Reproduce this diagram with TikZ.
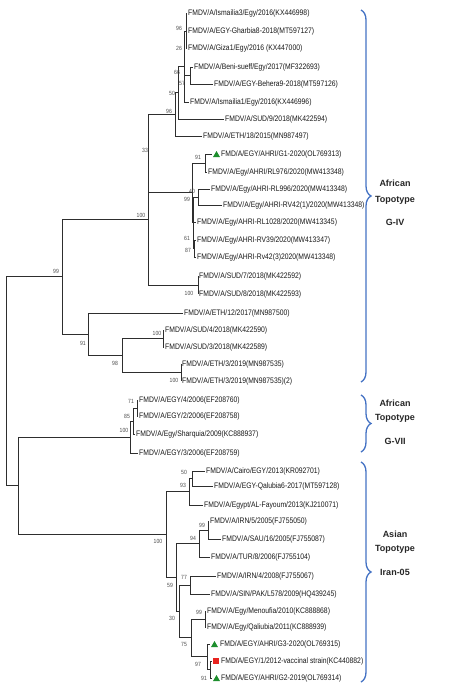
\documentclass[tikz,border=0pt]{standalone}
\usepackage{fontspec}
\setmainfont{Liberation Sans}
\newfontfamily\leaffont[FakeStretch=0.85]{Liberation Sans}
\usetikzlibrary{shapes.geometric,decorations.pathreplacing}
\definecolor{brblue}{HTML}{4472C4}
\definecolor{mkgreen}{HTML}{1E8F2E}
\definecolor{mkred}{HTML}{E8231F}
\begin{document}
\begin{tikzpicture}[x=1pt,y=-1pt,
 br/.style={draw=black!82, line width=1pt},
 leaf/.style={anchor=west, inner sep=1pt, font=\leaffont\fontsize{8}{9}\selectfont, text=black!90},
 bs/.style={inner sep=0, font=\leaffont\fontsize{6}{6.5}\selectfont, text=black!70},
 tri/.style={regular polygon, regular polygon sides=3, fill=mkgreen, inner sep=0, minimum size=8pt},
 sq/.style={rectangle, fill=mkred, inner sep=0, minimum size=6.5pt},
 clade/.style={draw=brblue, line width=1.3pt, decorate, decoration={brace, amplitude=10pt}},
 cladetxt/.style={font=\bfseries\fontsize{9}{10}\selectfont, text=black!85, inner sep=0}
]
\fill[white] (0,0) rectangle (474,699);
\useasboundingbox (0,0) rectangle (474,699);

% ---------- leaves ----------
\node[leaf] (l1) at (187,13) {FMDV/A/Ismailia3/Egy/2016(KX446998)};
\node[leaf] (l2) at (187,31) {FMDV/A/EGY-Gharbia8-2018(MT597127)};
\node[leaf] (l3) at (187,48) {FMDV/A/Giza1/Egy/2016 (KX447000)};
\node[leaf] (l4) at (193,67) {FMDV/A/Beni-sueff/Egy/2017(MF322693)};
\node[leaf] (l5) at (213,84) {FMDV/A/EGY-Behera9-2018(MT597126)};
\node[leaf] (l6) at (189,102) {FMDV/A/Ismailia1/Egy/2016(KX446996)};
\node[leaf] (l7) at (224,119) {FMDV/A/SUD/9/2018(MK422594)};
\node[leaf] (l8) at (202,136) {FMDV/A/ETH/18/2015(MN987497)};
\node[tri] (m9) at (216.5,155) {};
\coordinate (e9) at (212,154);
\node[leaf] (l9) at (220,154) {FMD/A/EGY/AHRI/G1-2020(OL769313)};
\node[leaf] (l10) at (207,172) {FMDV/A/Egy/AHRI/RL976/2020(MW413348)};
\node[leaf] (l11) at (210,189) {FMDV/A/Egy/AHRI-RL996/2020(MW413348)};
\node[leaf] (l12) at (222,205) {FMDV/A/Egy/AHRI-RV42(1)/2020(MW413348)};
\node[leaf] (l13) at (196,222) {FMDV/A/Egy/AHRI-RL1028/2020(MW413345)};
\node[leaf] (l14) at (196,240) {FMDV/A/Egy/AHRI-RV39/2020(MW413347)};
\node[leaf] (l15) at (196,257) {FMDV/A/Egy/AHRI-Rv42(3)2020(MW413348)};
\node[leaf] (l16) at (198,276) {FMDV/A/SUD/7/2018(MK422592)};
\node[leaf] (l17) at (198,294) {FMDV/A/SUD/8/2018(MK422593)};
\node[leaf] (l18) at (183,313) {FMDV/A/ETH/12/2017(MN987500)};
\node[leaf] (l19) at (164,330) {FMDV/A/SUD/4/2018(MK422590)};
\node[leaf] (l20) at (164,347) {FMDV/A/SUD/3/2018(MK422589)};
\node[leaf] (l21) at (181,364) {FMDV/A/ETH/3/2019(MN987535)};
\node[leaf] (l22) at (181,381) {FMDV/A/ETH/3/2019(MN987535)(2)};
\node[leaf] (l23) at (138,400) {FMDV/A/EGY/4/2006(EF208760)};
\node[leaf] (l24) at (138,416) {FMDV/A/EGY/2/2006(EF208758)};
\node[leaf] (l25) at (135,434) {FMDV/A/Egy/Sharquia/2009(KC888937)};
\node[leaf] (l26) at (138,453) {FMDV/A/EGY/3/2006(EF208759)};
\node[leaf] (l27) at (205,471) {FMDV/A/Cairo/EGY/2013(KR092701)};
\node[leaf] (l28) at (213,486) {FMDV/A/EGY-Qalubia6-2017(MT597128)};
\node[leaf] (l29) at (203,505) {FMDV/A/Egypt/AL-Fayoum/2013(KJ210071)};
\node[leaf] (l30) at (209,521) {FMDV/A/IRN/5/2005(FJ755050)};
\node[leaf] (l31) at (221,539) {FMDV/A/SAU/16/2005(FJ755087)};
\node[leaf] (l32) at (210,557) {FMDV/A/TUR/8/2006(FJ755104)};
\node[leaf] (l33) at (216,576) {FMDV/A/IRN/4/2008(FJ755067)};
\node[leaf] (l34) at (210,594) {FMDV/A/SIN/PAK/L578/2009(HQ439245)};
\node[leaf] (l35) at (206,611) {FMDV/A/Egy/Menoufia/2010(KC888868)};
\node[leaf] (l36) at (206,627) {FMDV/A/Egy/Qaliubia/2011(KC888939)};
\node[tri] (m37) at (214.5,645) {};
\coordinate (e37) at (210,644);
\node[leaf] (l37) at (219,644) {FMD/A/EGY/AHRI/G3-2020(OL769315)};
\node[sq] (m38) at (216,661) {};
\coordinate (e38) at (212,661);
\node[leaf] (l38) at (220,661) {FMD/A/EGY/1/2012-vaccinal strain(KC440882)};
\node[tri] (m39) at (216.5,679) {};
\coordinate (e39) at (212,678);
\node[leaf] (l39) at (220,678) {FMD/A/EGY/AHRI/G2-2019(OL769314)};

% ---------- internal nodes ----------
\coordinate (G) at (186,31);
\coordinate (H) at (190,75.5);
\coordinate (I) at (184,66);
\coordinate (E) at (178,92.5);
\coordinate (C) at (175,114);
\coordinate (J) at (205,163);
\coordinate (K) at (198,197);
\coordinate (Nn) at (194.5,248.5);
\coordinate (M) at (193,222);
\coordinate (AH) at (192,192.5);
\coordinate (N33) at (148,153.5);
\coordinate (S78) at (198,285);
\coordinate (B) at (148,219);
\coordinate (R) at (163,338.5);
\coordinate (S) at (181,372.5);
\coordinate (Q) at (122,355.5);
\coordinate (P) at (88,334);
\coordinate (A) at (62,276.5);
\coordinate (V) at (137,408);
\coordinate (U) at (133,421);
\coordinate (T) at (130,437);
\coordinate (X) at (192,478.5);
\coordinate (W) at (189,491.75);
\coordinate (AC) at (208,530);
\coordinate (AA) at (199,543.5);
\coordinate (AD) at (190,585);
\coordinate (AF) at (205,619);
\coordinate (AHn) at (210,669.5);
\coordinate (AG) at (207,656.75);
\coordinate (AE) at (191,637.9);
\coordinate (AB) at (179,611.4);
\coordinate (Z) at (176,577.5);
\coordinate (Y) at (166,534.7);
\coordinate (LN) at (18,485.8);
\coordinate (root) at (6,381);

% ---------- branches ----------
\draw[br] (G) |- (l1.west) (G) |- (l2.west) (G) |- (l3.west);
\draw[br] (H) |- (l4.west) (H) |- (l5.west);
\draw[br] (I) |- (G) (I) |- (H) (I) |- (l6.west);
\draw[br] (E) |- (I) (E) |- (l7.west);
\draw[br] (C) |- (E) (C) |- (l8.west);
\draw[br] (J) |- (e9) (J) |- (l10.west);
\draw[br] (K) |- (l11.west) (K) |- (l12.west);
\draw[br] (Nn) |- (l14.west) (Nn) |- (l15.west);
\draw[br] (M) |- (K) (M) |- (l13.west) (M) |- (Nn);
\draw[br] (AH) |- (J) (AH) |- (M);
\draw[br] (N33) |- (C) (N33) |- (AH);
\draw[br] (S78) |- (l16.west) (S78) |- (l17.west);
\draw[br] (B) |- (N33) (B) |- (S78);
\draw[br] (R) |- (l19.west) (R) |- (l20.west);
\draw[br] (S) |- (l21.west) (S) |- (l22.west);
\draw[br] (Q) |- (R) (Q) |- (S);
\draw[br] (P) |- (l18.west) (P) |- (Q);
\draw[br] (A) |- (B) (A) |- (P);
\draw[br] (V) |- (l23.west) (V) |- (l24.west);
\draw[br] (U) |- (V) (U) |- (l25.west);
\draw[br] (T) |- (U) (T) |- (l26.west);
\draw[br] (X) |- (l27.west) (X) |- (l28.west);
\draw[br] (W) |- (X) (W) |- (l29.west);
\draw[br] (AC) |- (l30.west) (AC) |- (l31.west);
\draw[br] (AA) |- (AC) (AA) |- (l32.west);
\draw[br] (AD) |- (l33.west) (AD) |- (l34.west);
\draw[br] (AF) |- (l35.west) (AF) |- (l36.west);
\draw[br] (AHn) |- (e38) (AHn) |- (e39);
\draw[br] (AG) |- (e37) (AG) |- (AHn);
\draw[br] (AE) |- (AF) (AE) |- (AG);
\draw[br] (AB) |- (AD) (AB) |- (AE);
\draw[br] (Z) |- (AA) (Z) |- (AB);
\draw[br] (Y) |- (W) (Y) |- (Z);
\draw[br] (LN) |- (T) (LN) |- (Y);
\draw[br] (root) |- (A) (root) |- (LN);

% ---------- bootstrap values ----------
\node[bs] (b1) at (179,28) {96};
\node[bs] (b2) at (179,48) {26};
\node[bs] (b3) at (177,72) {66};
\node[bs] (b4) at (182,83) {57};
\node[bs] (b5) at (172,93) {50};
\node[bs] (b6) at (169,111) {96};
\node[bs] (b7) at (145,150) {33};
\node[bs] (b8) at (198,157) {91};
\node[bs] (b9) at (192,191) {40};
\node[bs] (b10) at (187,199) {99};
\node[bs] (b11) at (187,238) {61};
\node[bs] (b12) at (188,250) {87};
\node[bs] (b13) at (141,215) {100};
\node[bs] (b14) at (189,293) {100};
\node[bs] (b15) at (56,271) {99};
\node[bs] (b16) at (83,343) {91};
\node[bs] (b17) at (115,363) {98};
\node[bs] (b18) at (157,333) {100};
\node[bs] (b19) at (174,380) {100};
\node[bs] (b20) at (131,401) {71};
\node[bs] (b21) at (127,416) {85};
\node[bs] (b22) at (124,430) {100};
\node[bs] (b23) at (158,541) {100};
\node[bs] (b24) at (183,485) {93};
\node[bs] (b25) at (184,472) {50};
\node[bs] (b26) at (202,525) {99};
\node[bs] (b27) at (193,538) {94};
\node[bs] (b28) at (170,585) {59};
\node[bs] (b29) at (184,577) {77};
\node[bs] (b30) at (172,618) {30};
\node[bs] (b31) at (199,612) {99};
\node[bs] (b32) at (184,644) {75};
\node[bs] (b33) at (198,664) {97};
\node[bs] (b34) at (204,678) {91};

% ---------- clade brackets ----------
\coordinate (k1t) at (361,10);  \coordinate (k1b) at (361,382);
\coordinate (k2t) at (361,395); \coordinate (k2b) at (361,452);
\coordinate (k3t) at (361,462); \coordinate (k3b) at (361,682);
\draw[clade] (k1t) -- (k1b);
\draw[clade] (k2t) -- (k2b);
\draw[clade] (k3t) -- (k3b);

\node[cladetxt] (c1a) at (395,183) {African};
\node[cladetxt] (c1b) at (395,200) {Topotype};
\node[cladetxt] (c1c) at (395,222) {G-IV};
\node[cladetxt] (c2a) at (395,403) {African};
\node[cladetxt] (c2b) at (395,418) {Topotype};
\node[cladetxt] (c2c) at (395,441) {G-VII};
\node[cladetxt] (c3a) at (395,534) {Asian};
\node[cladetxt] (c3b) at (395,549) {Topotype};
\node[cladetxt] (c3c) at (395,572) {Iran-05};
\end{tikzpicture}
\end{document}
